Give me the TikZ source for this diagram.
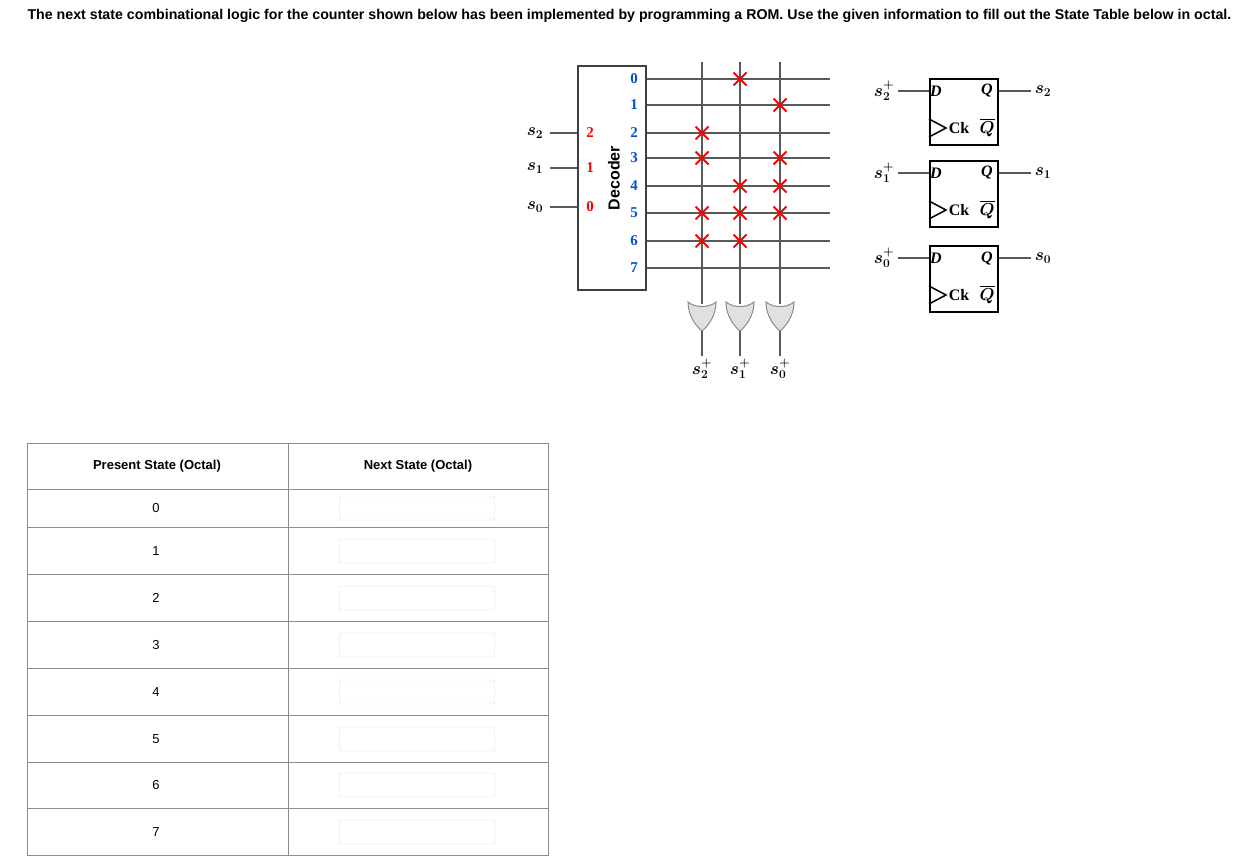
\documentclass[tikz,border=0pt]{standalone}
\usepackage{amsmath}
\usepackage{bm}
\usepackage{fontspec}
\setmainfont{Liberation Serif}
\setsansfont{Liberation Sans}
\begin{document}
\begin{tikzpicture}[x=1pt,y=-1pt,
  wire/.style={draw=black!65,line width=1.4pt},
  xmark/.style={draw=red,line width=1.8pt},
  lab/.style={font=\fontsize{17}{17}\selectfont\bfseries},
  rnum/.style={text=red,font=\fontsize{15}{15}\selectfont\bfseries},
  bnum/.style={text=blue!60!cyan!80!black,font=\fontsize{15}{15}\selectfont\bfseries},
  fft/.style={font=\bfseries\itshape\fontsize{16}{16}\selectfont},
  ffbox/.style={draw,line width=2pt,minimum width=68pt,minimum height=66pt,inner sep=0pt},
  tline/.style={draw=black!45,line width=0.6pt},
  tcell/.style={font=\sffamily\fontsize{13}{13}\selectfont},
  thead/.style={font=\sffamily\bfseries\fontsize{13}{13}\selectfont},
  inbox/.style={draw=black!15,rounded corners=2pt,minimum width=155pt,minimum height=24pt,inner sep=0pt}]
\useasboundingbox (0,0) rectangle (1257,861);
\node[anchor=west,font=\sffamily\bfseries\fontsize{14.2}{14}\selectfont] (title) at (24,16) {The next state combinational logic for the counter shown below has been implemented by programming a ROM. Use the given information to fill out the State Table below in octal.};
% decoder
\node[draw=black!75,line width=1.8pt,minimum width=68pt,minimum height=224pt,inner sep=0pt] (dec) at (612,178) {};
\node[rotate=90,font=\sffamily\bfseries\fontsize{16}{16}\selectfont] (dtxt) at (614,178) {Decoder};
\foreach \v/\y/\n in {2/133/S2,1/168/S1,0/207/S0}{
  \node[lab] (\n) at (535,\y) {$\bm{s_{\v}}$};
  \node[rnum] (r\v) at (590,\y) {\v};
  \draw[wire] (550,\y) coordinate (\n a) -- (dec.west |- \n);
}
\foreach \i/\y in {0/79,1/105,2/133,3/158,4/186,5/213,6/241,7/268}{
  \node[bnum] (b\i) at (634,\y) {\i};
  \coordinate (re\i) at (830,\y);
  \draw[wire] (dec.east |- re\i) -- (re\i);
}
\foreach \c/\x/\k in {0/702/2,1/740/1,2/780/0}{
  \coordinate (ct\c) at (\x,62);
  \coordinate (gt\c) at (\x,304);
  \coordinate (gb\c) at (\x,331);
  \coordinate (ob\c) at (\x,356);
  \draw[wire] (ct\c) -- (gt\c);
  \draw[draw=black!45,fill=black!12,line width=1pt] (\x-14,302) .. controls (\x-7,308) and (\x+7,308) .. (\x+14,302) .. controls (\x+14,316) and (\x+6,326) .. (\x,331) .. controls (\x-6,326) and (\x-14,316) .. (\x-14,302) -- cycle;
  \draw[wire] (gb\c) -- (ob\c);
  \node[lab] (o\c) at (\x,369) {$\bm{s^{+}_{\k}}$};
}
\foreach \x/\y in {740/79,780/105,702/133,702/158,780/158,740/186,780/186,702/213,740/213,780/213,702/241,740/241}{
  \draw[xmark] (\x-6.5,\y-6.5) -- (\x+6.5,\y+6.5) (\x-6.5,\y+6.5) -- (\x+6.5,\y-6.5);
}
% flip-flops
\foreach \k/\y in {2/112,1/194,0/279}{
  \node[ffbox] (ff\k) at (964,\y) {};
  \node[fft,anchor=west,inner sep=1pt] (d\k) at (ff\k.west|-0,\y-21) {D};
  \node[fft] (q\k) at (987,\y-21) {Q};
  \node[font=\bfseries\fontsize{16}{16}\selectfont] (ck\k) at (959,\y+16) {Ck};
  \node[fft] (qb\k) at (987,\y+16) {$\bm{\overline{Q}}$};
  \draw[line width=1.5pt] (ff\k.west|-0,\y+7) -- (946,\y+16) -- (ff\k.west|-0,\y+25);
  \node[lab] (in\k) at (884,\y-21) {$\bm{s^{+}_{\k}}$};
  \node[lab] (out\k) at (1043,\y-21) {$\bm{s_{\k}}$};
  \draw[wire] (in\k.east) -- (ff\k.west|-0,\y-21);
  \draw[wire] (ff\k.east|-0,\y-21) -- (out\k.west);
}
% table
\coordinate (tl) at (27,443);
\coordinate (tr) at (548,855);
\draw[tline] (tl) rectangle (tr);
\draw[tline] (288,443) -- (288,855);
\foreach \y in {489,527,574,621,668,715,762,808}{\draw[tline] (27,\y) -- (548,\y);}
\node[thead] (h1) at (157,466) {Present State (Octal)};
\node[thead] (h2) at (418,466) {Next State (Octal)};
\foreach \i/\y in {0/508,1/551,2/598,3/645,4/692,5/739,6/785,7/832}{
  \node[tcell] (p\i) at (156,\y) {\i};
  \node[inbox] (n\i) at (417,\y) {};
}
\end{tikzpicture}
\end{document}
